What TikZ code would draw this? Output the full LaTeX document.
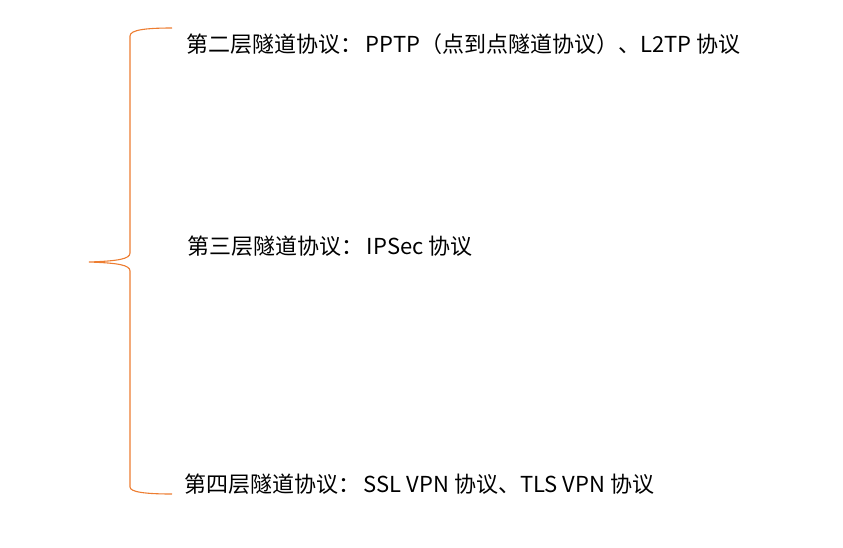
\documentclass[tikz,border=0pt]{standalone}
\usepackage{fontspec}
\setmainfont{Noto Sans CJK SC}
\definecolor{braceorange}{HTML}{ED7D31}
\tikzset{layer/.style={anchor=west, inner sep=0pt, font=\fontsize{22}{26}\selectfont}}
\begin{document}
\begin{tikzpicture}[x=1pt, y=-1pt]
        \useasboundingbox (0, 0) rectangle (843, 547);

        % brace
        \draw[braceorange, line width=1.1pt] (172, 28) .. controls (145, 28) and (130, 30) .. (130, 36)
            -- (130, 253) .. controls (130, 259) and (118, 261) .. (89, 262)
            .. controls (118, 263) and (130, 265) .. (130, 271)
            -- (130, 487) .. controls (130, 492) and (145, 494) .. (172, 494);

        \node[layer] (two) at (186, 44) {第二层隧道协议：\,PPTP（点到点隧道协议）、L2TP 协议};
        \node[layer] (three) at (187, 246) {第三层隧道协议：\,IPSec 协议};
        \node[layer] (four) at (184, 484) {第四层隧道协议：\,SSL VPN 协议、TLS VPN 协议};
    \end{tikzpicture}
\end{document}
